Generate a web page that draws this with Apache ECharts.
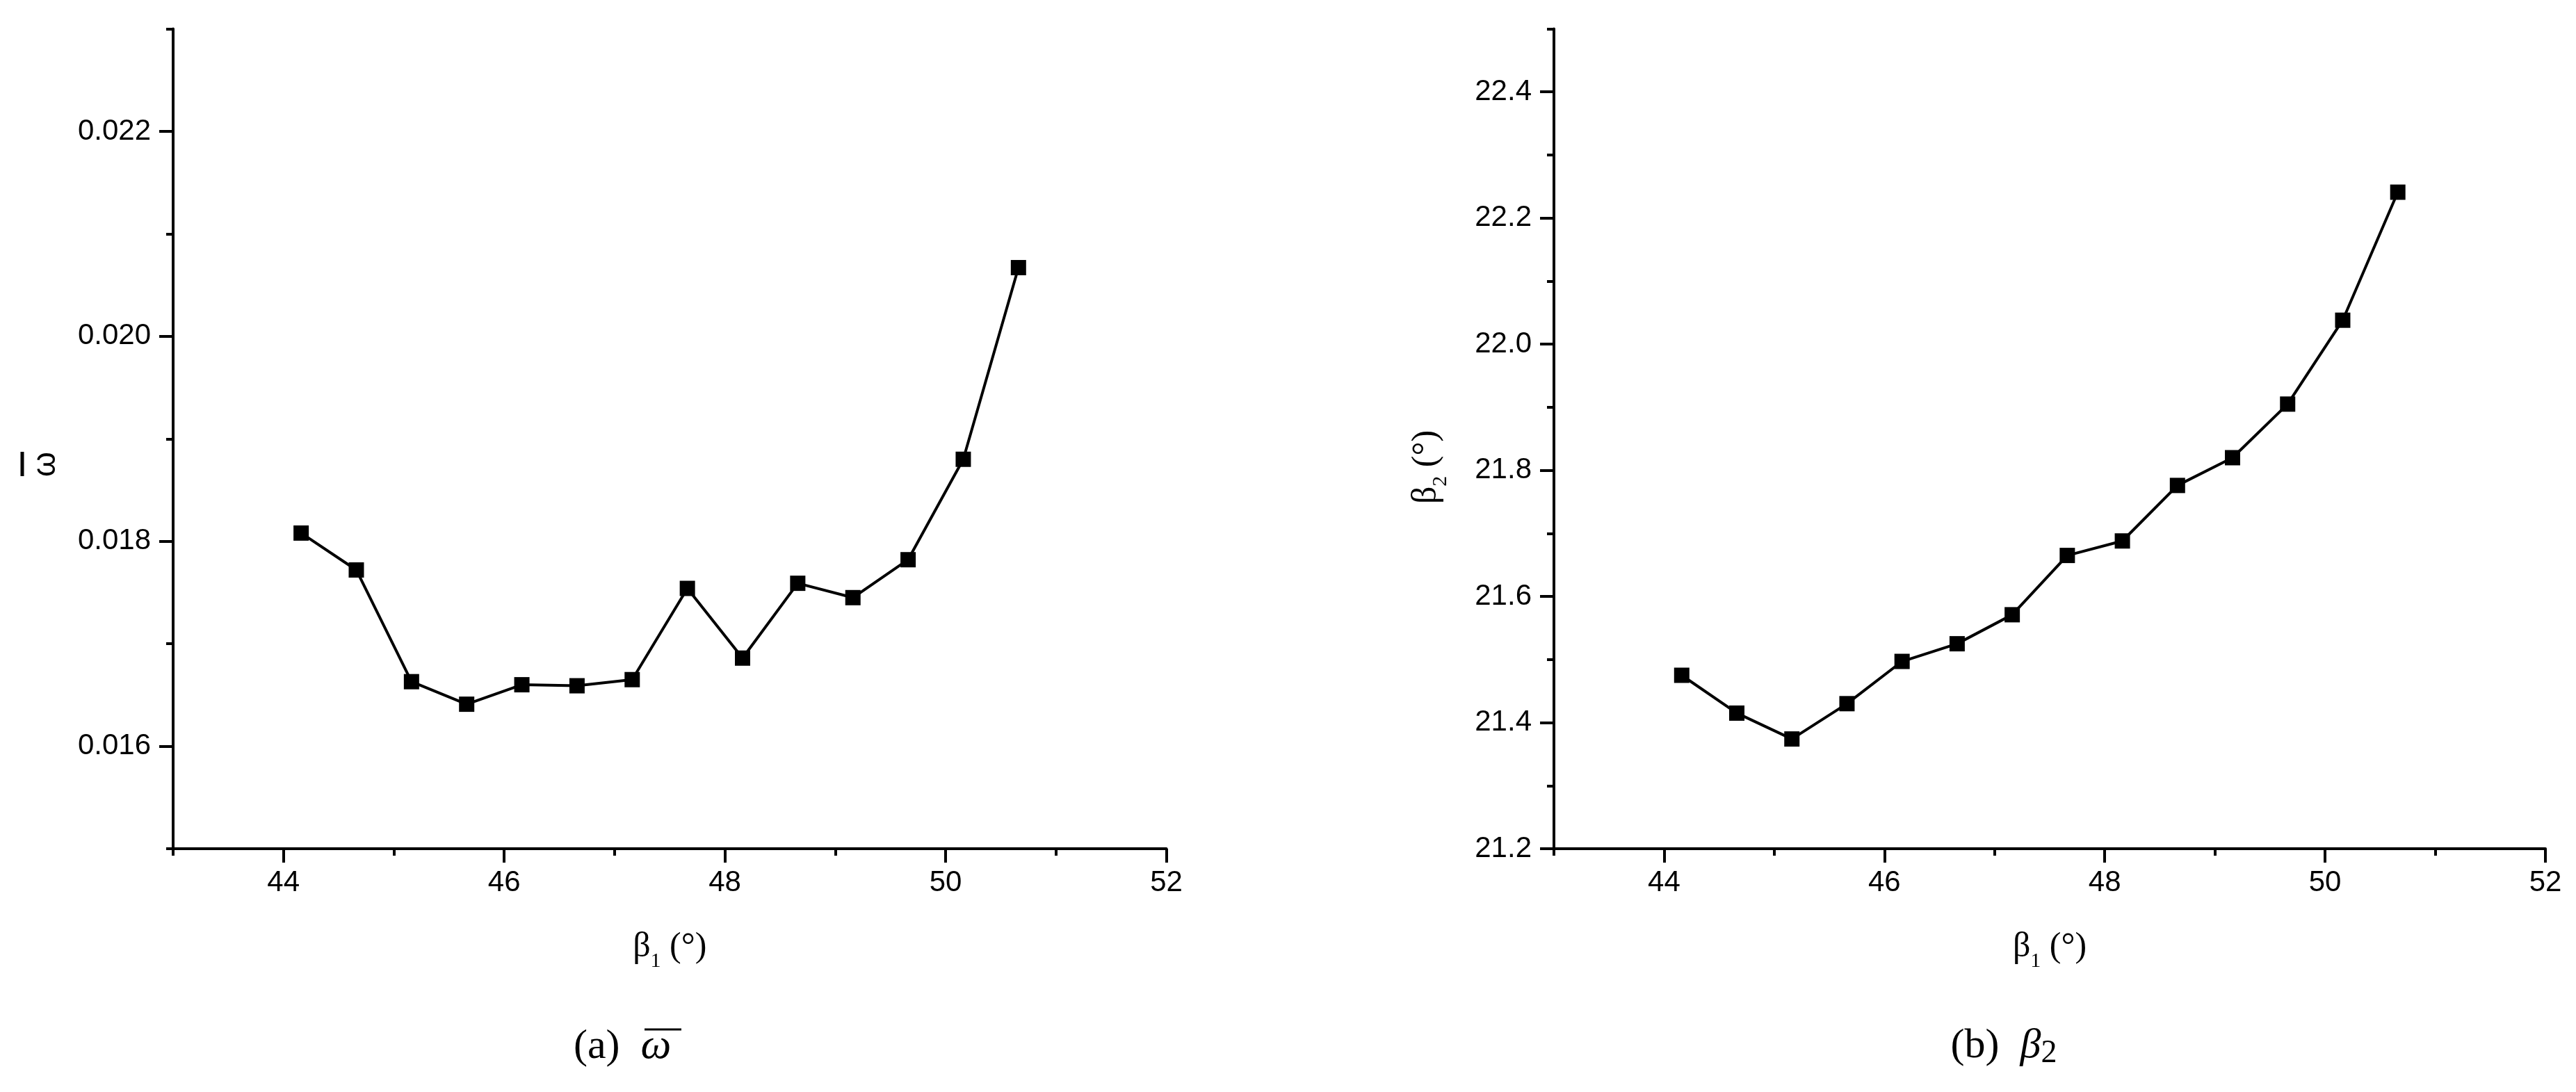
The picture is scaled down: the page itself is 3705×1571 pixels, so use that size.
<!DOCTYPE html>
<html>
<head>
<meta charset="utf-8">
<script src="https://cdn.jsdelivr.net/npm/echarts@6/dist/echarts.min.js"></script>
<style>
html,body{margin:0;padding:0;background:#ffffff;}
#c{width:3705px;height:1571px;}
</style>
</head>
<body>
<div id="c"></div>
<script>
// ---- data ----
const beta1 = [44.16, 44.66, 45.16, 45.66, 46.16, 46.66, 47.16, 47.66, 48.16, 48.66, 49.16, 49.66, 50.16, 50.66];
const omegaBar = [0.01808, 0.01772, 0.01663, 0.01641, 0.01660, 0.01659, 0.01665, 0.01754, 0.01686, 0.01759, 0.01745, 0.01782, 0.01880, 0.02067];
const beta2 = [21.475, 21.415, 21.374, 21.430, 21.497, 21.525, 21.571, 21.665, 21.688, 21.776, 21.820, 21.905, 22.038, 22.241];

const xMajorTicks = [44, 46, 48, 50, 52];
const xMinorTicks = [43, 45, 47, 49, 51];
const omegaMajorTicks = [0.016, 0.018, 0.020, 0.022];
const omegaMinorTicks = [0.015, 0.017, 0.019, 0.021, 0.023];
const beta2MajorTicks = [21.2, 21.4, 21.6, 21.8, 22.0, 22.2, 22.4];
const beta2MinorTicks = [21.3, 21.5, 21.7, 21.9, 22.1, 22.3, 22.5];

const xRange = [43, 52];
const omegaRange = [0.015, 0.023];
const beta2Range = [21.2, 22.5];

// ---- styling ----
const SANS = 'Liberation Sans, Arial, sans-serif';
const SERIF = 'Liberation Serif, Times New Roman, serif';
const BLACK = '#000000';

const axisNameRich = {
  m: {fontFamily: SERIF, fontSize: 50, lineHeight: 50, verticalAlign: 'top', color: BLACK},
  s: {fontFamily: SERIF, fontSize: 30, lineHeight: 90, color: BLACK}
};

function xMain(gi) {
  return {
    type: 'value', gridIndex: gi, min: xRange[0], max: xRange[1], interval: 1, position: 'bottom',
    axisLine: {show: true, onZero: false, lineStyle: {color: BLACK, width: 4}},
    axisTick: {show: true, inside: false, length: 20, customValues: xMajorTicks, lineStyle: {color: BLACK, width: 4}},
    axisLabel: {show: true, margin: 28, customValues: xMajorTicks, color: BLACK, fontSize: 42, fontFamily: SANS,
      formatter: v => String(Math.round(v))},
    splitLine: {show: false},
    name: '{m|β}{s|1}{m| (°)}', nameLocation: 'middle', nameGap: 117,
    nameTextStyle: {rich: axisNameRich}
  };
}
function xMinor(gi) {
  return {
    type: 'value', gridIndex: gi, min: xRange[0], max: xRange[1], interval: 1, position: 'bottom',
    axisLine: {show: false, onZero: false},
    axisTick: {show: true, inside: false, length: 10, customValues: xMinorTicks, lineStyle: {color: BLACK, width: 4}},
    axisLabel: {show: false},
    splitLine: {show: false}
  };
}
function yMain(gi, range, ticks, digits, interval) {
  return {
    type: 'value', gridIndex: gi, min: range[0], max: range[1], interval: interval, position: 'left',
    axisLine: {show: true, onZero: false, lineStyle: {color: BLACK, width: 4}},
    axisTick: {show: true, inside: false, length: 20, customValues: ticks, lineStyle: {color: BLACK, width: 4}},
    axisLabel: {show: true, margin: 32, customValues: ticks, color: BLACK, fontSize: 42, fontFamily: SANS,
      formatter: v => Number(v).toFixed(digits)},
    splitLine: {show: false}
  };
}
function yMinor(gi, range, ticks, interval) {
  return {
    type: 'value', gridIndex: gi, min: range[0], max: range[1], interval: interval, position: 'left', offset: 0,
    axisLine: {show: false, onZero: false},
    axisTick: {show: true, inside: false, length: 10, customValues: ticks, lineStyle: {color: BLACK, width: 4}},
    axisLabel: {show: false},
    splitLine: {show: false}
  };
}

function pairs(xs, ys) { return xs.map((x, i) => [x, ys[i]]); }

const seriesStyle = {
  type: 'line', symbol: 'rect', symbolSize: 22, showSymbol: true,
  lineStyle: {color: BLACK, width: 4}, itemStyle: {color: BLACK}, silent: true, animation: false
};

const chart = echarts.init(document.getElementById('c'), null, {renderer: 'canvas'});
chart.setOption({
  backgroundColor: '#ffffff',
  animation: false,
  grid: [
    {left: 249, top: 41.5, width: 1428.5, height: 1179.5, outerBoundsMode: 'none', containLabel: false},
    {left: 2235, top: 41.5, width: 1426, height: 1179.5, outerBoundsMode: 'none', containLabel: false}
  ],
  xAxis: [xMain(0), xMinor(0), xMain(1), xMinor(1)],
  yAxis: [
    yMain(0, omegaRange, omegaMajorTicks, 3, 0.001),
    yMinor(0, omegaRange, omegaMinorTicks, 0.001),
    yMain(1, beta2Range, beta2MajorTicks, 1, 0.1),
    yMinor(1, beta2Range, beta2MinorTicks, 0.1)
  ],
  series: [
    Object.assign({}, seriesStyle, {name: 'omega', xAxisIndex: 0, yAxisIndex: 0, data: pairs(beta1, omegaBar)}),
    Object.assign({}, seriesStyle, {name: 'beta2', xAxisIndex: 2, yAxisIndex: 2, data: pairs(beta1, beta2)})
  ],
  graphic: [
    // left y-axis name: omega with overbar (bar drawn as a line, rotated view)
    {type: 'text', x: 66, y: 668, rotation: Math.PI / 2,
      style: {text: 'ω', font: '46px ' + SANS, fill: BLACK, align: 'center', verticalAlign: 'middle'}},
    {type: 'line', shape: {x1: 32, y1: 650, x2: 32, y2: 685}, style: {stroke: BLACK, lineWidth: 5}},
    // right y-axis name
    {type: 'text', x: 2072, y: 672, rotation: Math.PI / 2,
      style: {text: '{m|β}{s|2}{m| (°)}', rich: axisNameRich, fill: BLACK, align: 'center', verticalAlign: 'middle'}},
    // caption (a)
    {type: 'text', x: 825, y: 1506,
      style: {text: '{n|(a)  }{w|ω}', fill: BLACK, align: 'left', verticalAlign: 'middle',
        rich: {
          n: {fontFamily: SERIF, fontSize: 60, lineHeight: 60, color: BLACK},
          w: {fontFamily: SERIF, fontSize: 62, lineHeight: 60, fontStyle: 'italic', color: BLACK}
        }}},
    {type: 'line', shape: {x1: 927, y1: 1481, x2: 980, y2: 1481}, style: {stroke: BLACK, lineWidth: 3}},
    // caption (b)
    {type: 'text', x: 2882, y: 1516,
      style: {text: '{n|(b)  }{b|β}{s|2}', fill: BLACK, align: 'center', verticalAlign: 'middle',
        rich: {
          n: {fontFamily: SERIF, fontSize: 60, lineHeight: 60, verticalAlign: 'top', color: BLACK},
          b: {fontFamily: SERIF, fontSize: 60, lineHeight: 60, verticalAlign: 'top', fontStyle: 'italic', color: BLACK},
          s: {fontFamily: SERIF, fontSize: 46, lineHeight: 81, color: BLACK}
        }}}
  ]
});
</script>
</body>
</html>
